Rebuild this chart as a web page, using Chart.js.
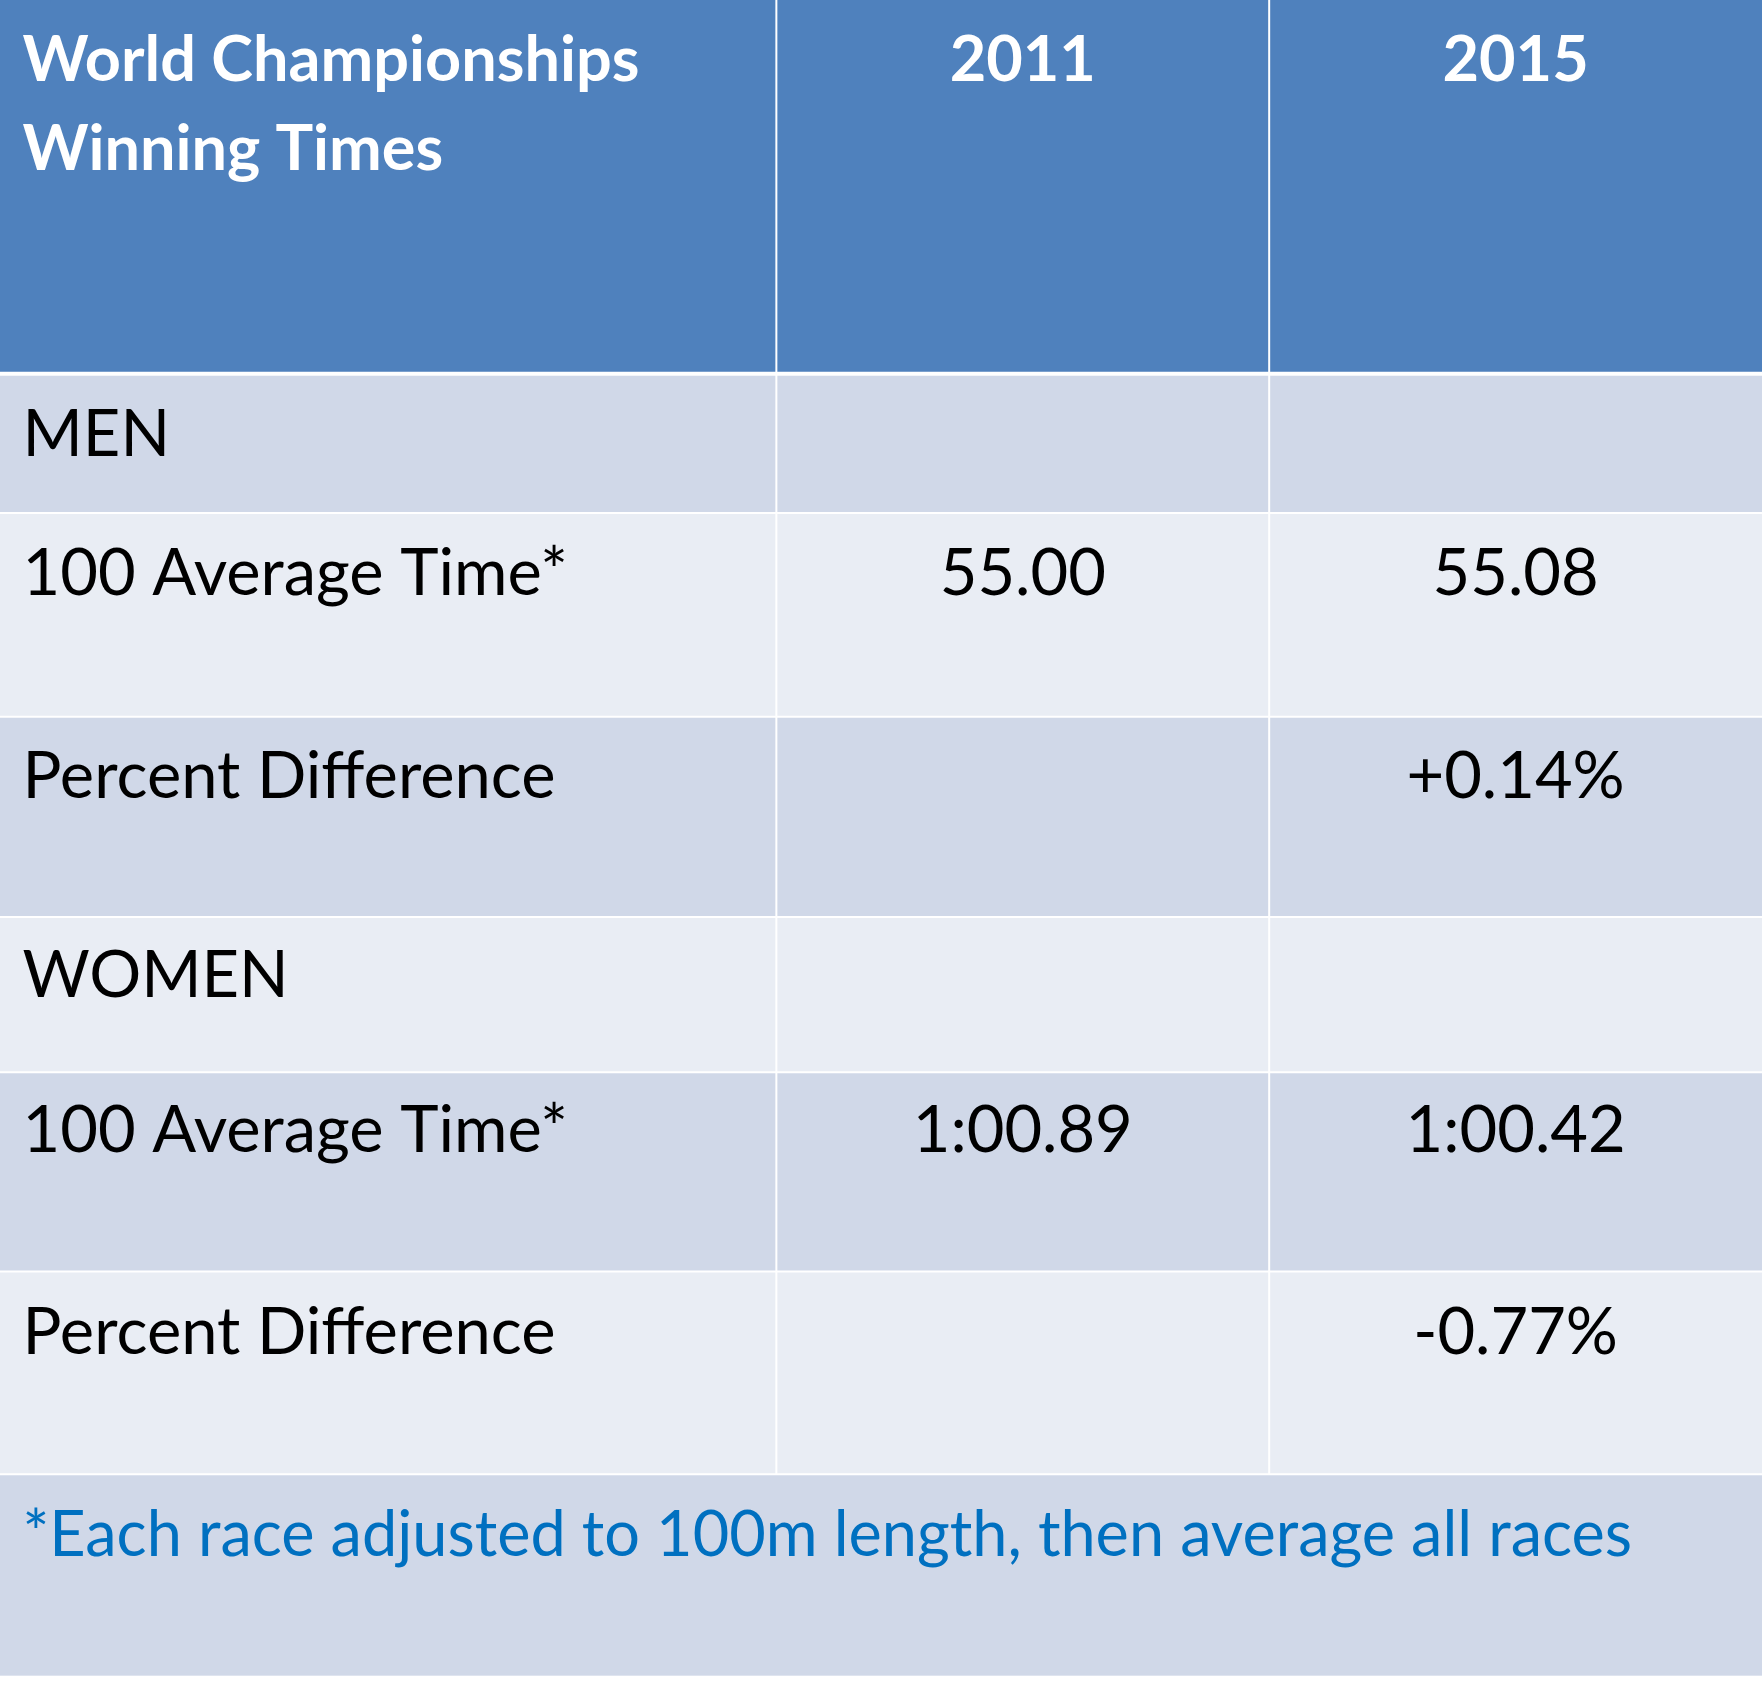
<!DOCTYPE html>
<html>
<head>
<meta charset="utf-8">
<script src="https://cdn.jsdelivr.net/npm/chart.js@4.4.0/dist/chart.umd.min.js"></script>
<style>
  html, body { margin: 0; padding: 0; background: #ffffff; }
  #wrap { width: 1762px; height: 1687px; position: relative; }
</style>
</head>
<body>
<div id="wrap"><canvas id="tableChart"></canvas></div>
<script>
// table content
const headerCells = ["World Championships\nWinning Times", "2011", "2015"];
const rowLabels = ["MEN", "100 Average Time*", "Percent Difference", "WOMEN", "100 Average Time*", "Percent Difference"];
const values2011 = ["", "55.00", "", "", "1:00.89", ""];
const values2015 = ["", "55.08", "+0.14%", "", "1:00.42", "-0.77%"];
const footnote = "*Each race adjusted to 100m length, then average all races";

// layout in table units (row / column boundaries)
const colEdges = [0, 690, 1128, 1566];
const rowEdges = [0, 330, 453, 633, 810, 947, 1123, 1302, 1480];
const rowFill = ["#d0d8e8", "#e9edf4", "#d0d8e8", "#e9edf4", "#d0d8e8", "#e9edf4", "#d0d8e8"];

const tablePlugin = {
  id: "tablePlugin",
  afterDraw(chart) {
    const { ctx } = chart;
    const xs = chart.scales.x;
    const ys = chart.scales.y;
    const px = (v) => xs.getPixelForValue(v);
    const py = (v) => ys.getPixelForValue(v);
    const unit = px(1) - px(0);
    const font = (w, s) => `${w} ${Math.round(s * unit)}px Lato, "Open Sans", sans-serif`;

    ctx.save();
    // header
    ctx.fillStyle = "#4f81bd";
    ctx.fillRect(px(0), py(rowEdges[0]), px(colEdges[3]) - px(0), py(rowEdges[1]) - py(rowEdges[0]));
    // body rows + footnote row
    rowFill.forEach((c, i) => {
      ctx.fillStyle = c;
      ctx.fillRect(px(0), py(rowEdges[i + 1]), px(colEdges[3]) - px(0), py(rowEdges[i + 2]) - py(rowEdges[i + 1]));
    });
    // grid lines
    ctx.strokeStyle = "#ffffff";
    ctx.lineWidth = 2;
    for (let i = 1; i < rowEdges.length - 1; i++) {
      ctx.lineWidth = i === 1 ? 4 : 2;
      ctx.beginPath();
      ctx.moveTo(px(0), py(rowEdges[i]));
      ctx.lineTo(px(colEdges[3]), py(rowEdges[i]));
      ctx.stroke();
    }
    ctx.lineWidth = 2;
    [1, 2].forEach((c) => {
      ctx.beginPath();
      ctx.moveTo(px(colEdges[c]), py(rowEdges[0]));
      ctx.lineTo(px(colEdges[c]), py(rowEdges[7]));
      ctx.stroke();
    });

    // header text
    ctx.textBaseline = "middle";
    ctx.fillStyle = "#ffffff";
    ctx.font = font("bold", 56);
    ctx.textAlign = "left";
    headerCells[0].split("\n").forEach((line, i) => {
      ctx.fillText(line, px(20), py(54 + i * 78));
    });
    ctx.textAlign = "center";
    ctx.fillText(headerCells[1], px((colEdges[1] + colEdges[2]) / 2), py(54));
    ctx.fillText(headerCells[2], px((colEdges[2] + colEdges[3]) / 2), py(54));

    // body text
    ctx.fillStyle = "#000000";
    ctx.font = font("normal", 58);
    const textY = [384, 507, 686, 862, 999, 1177];
    rowLabels.forEach((lab, i) => {
      ctx.textAlign = "left";
      ctx.fillText(lab, px(20), py(textY[i]));
      ctx.textAlign = "center";
      if (values2011[i]) ctx.fillText(values2011[i], px((colEdges[1] + colEdges[2]) / 2), py(textY[i]));
      if (values2015[i]) ctx.fillText(values2015[i], px((colEdges[2] + colEdges[3]) / 2), py(textY[i]));
    });

    // footnote
    ctx.fillStyle = "#0070c0";
    ctx.textAlign = "left";
    ctx.font = font("normal", 56);
    ctx.fillText(footnote, px(20), py(1356), px(1545) - px(20));
    ctx.restore();
  },
};

new Chart(document.getElementById("tableChart"), {
  type: "scatter",
  data: { datasets: [{ data: [] }] },
  options: {
    responsive: true,
    maintainAspectRatio: false,
    animation: false,
    layout: { padding: 0 },
    plugins: { legend: { display: false }, tooltip: { enabled: false } },
    scales: {
      x: { type: "linear", min: 0, max: 1566, display: false },
      y: { type: "linear", min: 0, max: 1490, reverse: true, display: false },
    },
  },
  plugins: [tablePlugin],
});
</script>
</body>
</html>
